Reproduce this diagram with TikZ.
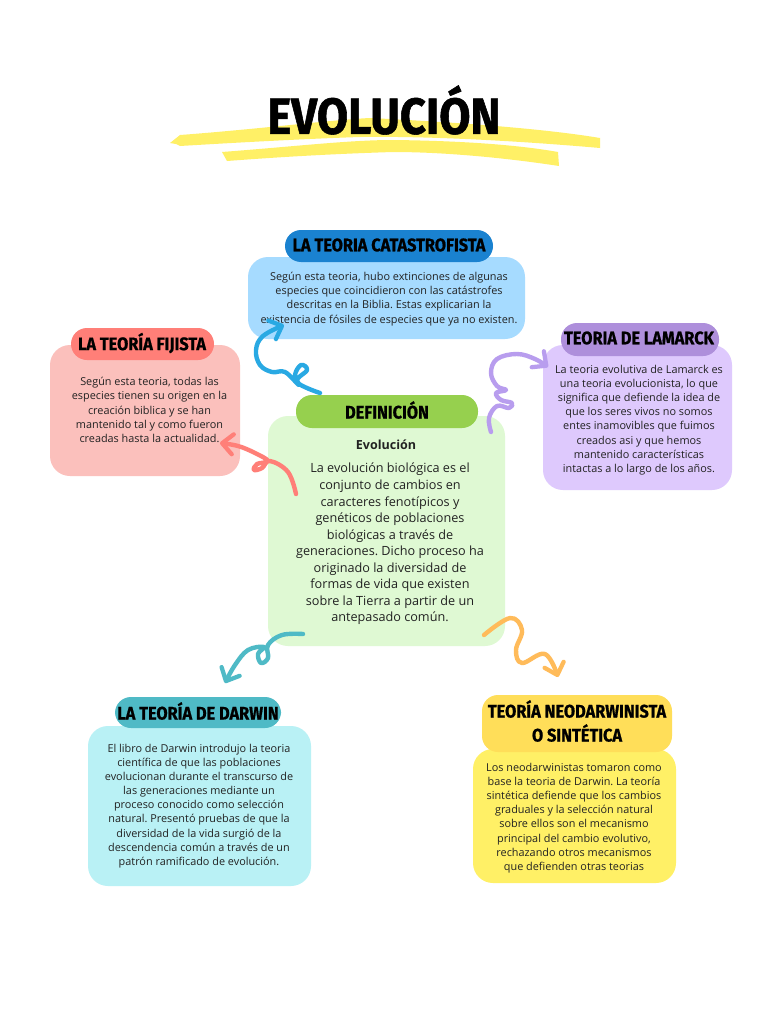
\documentclass[tikz,border=0pt]{standalone}
\usepackage{fontspec}
\usetikzlibrary{arrows.meta}
\setmainfont{Open Sans}
\newfontfamily\hdfont[FakeStretch=0.9,FakeBold=0.8]{Fira Sans Bold}
\newfontfamily\titlefont[FakeStretch=0.895,FakeBold=1.1]{Fira Sans Bold}
\definecolor{cblueh}{HTML}{1A82D0}\definecolor{cblueb}{HTML}{A6DBFF}
\definecolor{cbluel}{HTML}{29A9E3}
\definecolor{cpinkh}{HTML}{FF7F78}\definecolor{cpinkb}{HTML}{FBC0BC}
\definecolor{cpurh}{HTML}{AE8FDB}\definecolor{cpurb}{HTML}{DEC9FD}
\definecolor{cpurl}{HTML}{B89DEE}
\definecolor{cgrnh}{HTML}{96D04E}\definecolor{cgrnb}{HTML}{DFF9D3}
\definecolor{cteah}{HTML}{4FBAC6}\definecolor{cteab}{HTML}{B9F1F5}
\definecolor{cyelh}{HTML}{FFDE59}\definecolor{cyelb}{HTML}{FFF066}
\definecolor{corgl}{HTML}{FFBB5A}
\definecolor{cbrush}{HTML}{FFF066}
\definecolor{txt}{HTML}{222222}
\frenchspacing
\tikzset{
 x=0.75pt,y=-0.75pt,
 bodybox/.style={rounded corners=15pt,inner sep=0pt},
 headbox/.style={rounded corners=12pt,inner sep=0pt},
 hd/.style={font=\hdfont\fontsize{13.6pt}{17.5pt}\selectfont,text=black,align=center,inner sep=0pt},
 small/.style={font=\fontsize{8.15pt}{10.6pt}\selectfont,text=txt,align=center,inner sep=0pt},
 big/.style={font=\fontsize{9.5pt}{12.4pt}\selectfont,text=txt,align=center,inner sep=0pt},
 squig/.style={line width=3.3pt,line cap=round,line join=round,-{Straight Barb[length=8pt,width=15pt,line width=3.2pt,round]}},
}
\begin{document}
\begin{tikzpicture}
\useasboundingbox (0,0) rectangle (768,1024);
\fill[white] (0,0) rectangle (768,1024);
% brush
\fill[cbrush] (170,143) -- (180,135) .. controls (260,129) and (330,120) .. (370,118) .. controls (450,122) and (540,128) .. (600,138) -- (600,148) .. controls (520,141) and (430,136) .. (360,137) .. controls (300,139) and (230,143) .. (180,146) -- (176,144) -- cycle;
\fill[cbrush] (222,152) .. controls (300,146) and (350,140) .. (393,140) .. controls (480,141) and (530,147) .. (558,152) -- (559,166) .. controls (500,157) and (440,152) .. (393,152) .. controls (330,154) and (280,157) .. (227,161) -- cycle;
\node[font=\titlefont\fontsize{38pt}{38pt}\selectfont,inner sep=0pt,text=black] (title) at (384,110) {EVOLUCIÓN};
% blue
\fill[cblueb,bodybox] (248,257) rectangle (525,339);
\fill[cblueh,headbox] (285,230) rectangle (493,262);
\node[hd] (h1) at (389,245) {LA TEORIA CATASTROFISTA};
\node[small] (t1) at (389,299) {Según esta teoria, hubo extinciones de algunas\\especies que coincidieron con las catástrofes\\descritas en la Biblia. Estas explicarian la\\existencia de fósiles de especies que ya no existen.};
% pink
\fill[cpinkb,bodybox] (50,345) rectangle (240,476);
\fill[cpinkh,headbox] (71,328) rectangle (214,360);
\node[hd] (h2) at (142,343) {LA TEORÍA FIJISTA};
\node[small] (t2) at (149.5,410) {Según esta teoria, todas las\\especies tienen su origen en la\\creación biblica y se han\\mantenido tal y como fueron\\creadas hasta la actualidad.};
% purple
\fill[cpurb,bodybox] (543,345) rectangle (732,490);
\fill[cpurh,headbox] (561,323) rectangle (719,356);
\node[hd] (h3) at (639,338) {TEORIA DE LAMARCK};
\node[small] (t3) at (639,420) {La teoria evolutiva de Lamarck es\\una teoria evolucionista, lo que\\significa que defiende la idea de\\que los seres vivos no somos\\entes inamovibles que fuimos\\creados asi y que hemos\\mantenido características\\intactas a lo largo de los años.};
% green
\fill[cgrnb,bodybox] (268,416) rectangle (505,646);
\fill[cgrnh,headbox] (296,395) rectangle (478,428);
\node[hd] (h4) at (387,410) {DEFINICIÓN};
\node[font=\bfseries\fontsize{9.4pt}{12pt}\selectfont,text=txt,inner sep=0pt] (t4a) at (386,445) {Evolución};
\node[big] (t4) at (390,544) {La evolución biológica es el\\conjunto de cambios en\\caracteres fenotípicos y\\genéticos de poblaciones\\biológicas a través de\\generaciones. Dicho proceso ha\\originado la diversidad de\\formas de vida que existen\\sobre la Tierra a partir de un\\antepasado común.};
% teal
\fill[cteab,bodybox] (88,726) rectangle (311,886);
\fill[cteah,headbox] (115,697) rectangle (281,728);
\node[hd] (h5) at (198,711) {LA TEORÍA DE DARWIN};
\node[small] (t5) at (199,806) {El libro de Darwin introdujo la teoria\\científica de que las poblaciones\\evolucionan durante el transcurso de\\las generaciones mediante un\\proceso conocido como selección\\natural. Presentó pruebas de que la\\diversidad de la vida surgió de la\\descendencia común a través de un\\patrón ramificado de evolución.};
% yellow
\fill[cyelb,bodybox] (473,749) rectangle (676,883);
\fill[cyelh,headbox] (482,695) rectangle (672,752);
\node[hd,font=\hdfont\fontsize{13.6pt}{18pt}\selectfont] (h6) at (577,721) {TEORÍA NEODARWINISTA\\O SINTÉTICA};
\node[small] (t6) at (574,818) {Los neodarwinistas tomaron como\\base la teoria de Darwin. La teoría\\sintética defiende que los cambios\\graduales y la selección natural\\sobre ellos son el mecanismo\\principal del cambio evolutivo,\\rechazando otros mecanismos\\que defienden otras teorias};
% squiggles
\coordinate (a1) at (320,393);\coordinate (b1) at (284,325);
\draw[squig,color=cbluel] plot[smooth,tension=0.65] coordinates {(a1) (297,382) (307,370) (301,365) (295,375) (299,385) (285,372) (272,372) (260,365) (256,350) (263,336) (b1)};
\coordinate (a2) at (296,494);\coordinate (b2) at (220,443);
\draw[squig,color=cpinkh] plot[smooth,tension=0.65] coordinates {(a2) (288,472) (270,461) (262,468) (254,470) (257,464) (268,461) (255,453) (238,446) (b2)};
\coordinate (a3) at (491,432);\coordinate (b3) at (548,367);
\draw[squig,color=cpurl] plot[smooth,tension=0.65] coordinates {(a3) (489,418) (497,406) (509,408) (512,403) (501,400) (496,393) (506,390) (497,386) (491,373) (497,359) (517,354) (535,359) (b3)};
\coordinate (a4) at (303,634);\coordinate (b4) at (225,683);
\draw[squig,color=cteah] plot[smooth,tension=0.65] coordinates {(a4) (282,635) (268,645) (268,658) (261,663) (258,654) (264,647) (248,650) (235,665) (b4)};
\coordinate (a5) at (484,635);\coordinate (b5) at (558,677);
\draw[squig,color=corgl] plot[smooth,tension=0.65] coordinates {(a5) (510,618) (522,630) (516,650) (522,663) (545,654) (b5)};
\end{tikzpicture}
\end{document}
